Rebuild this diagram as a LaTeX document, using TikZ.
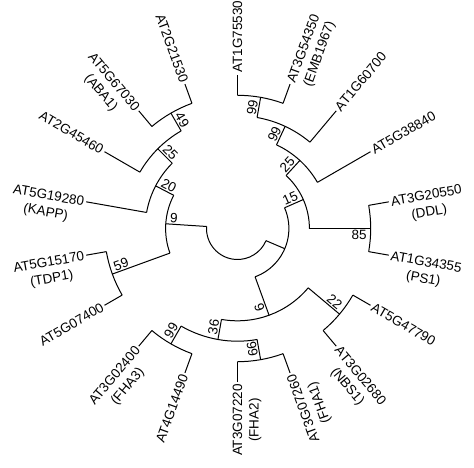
\documentclass[tikz,border=0pt]{standalone}
\usepackage{fontspec}
\setmainfont{Liberation Sans}
\begin{document}
\begin{tikzpicture}[x=0.75pt,y=0.75pt,
  every node/.style={font=\fontsize{10.1}{12}\selectfont, inner sep=1pt},
  branch/.style={draw=black, line width=0.75pt},
  leafR/.style={anchor=west, rotate=#1, inner xsep=1.5pt},
  leafL/.style={anchor=east, rotate=#1+180, inner xsep=1.5pt},
  subR/.style={anchor=north, rotate=#1, inner ysep=3.6pt},
  subL/.style={anchor=north, rotate=#1+180, inner ysep=3.6pt},
  bsR/.style={anchor=south east, rotate=#1},
  bsRb/.style={anchor=north east, rotate=#1},
  bsL/.style={anchor=south west, rotate=#1+180},
]
\useasboundingbox (-237.5,-238.5) rectangle (236.5,228.5);

% ---- internal node coordinates (node point and base point on parent arc)
\coordinate (n9b) at (176.25:31);   \coordinate (n9) at (176.25:71.9);
\coordinate (nBb) at (336.875:31);  \coordinate (nB) at (336.875:51.4);
\coordinate (n15b) at (23.75:51.4); \coordinate (n15) at (23.75:71.9);
\coordinate (n25rb) at (47.5:71.9); \coordinate (n25r) at (47.5:92.3);
\coordinate (n99bb) at (65:92.3);   \coordinate (n99b) at (65:112.7);
\coordinate (n99ab) at (80:112.7);  \coordinate (n99a) at (80:133.2);
\coordinate (n85b) at (0:71.9);     \coordinate (n85) at (0:133.2);
\coordinate (n6b) at (-70:51.4);    \coordinate (n6) at (-70:92.3);
\coordinate (n22b) at (-40:92.3);   \coordinate (n22) at (-40:133.2);
\coordinate (n36b) at (-100:92.3);  \coordinate (n36) at (-100:112.7);
\coordinate (n66b) at (-80:112.7);  \coordinate (n66) at (-80:133.2);
\coordinate (n99cb) at (-120:112.7);\coordinate (n99c) at (-120:133.2);
\coordinate (n59b) at (200:71.9);   \coordinate (n59) at (200:133.2);
\coordinate (n20b) at (152.5:71.9); \coordinate (n20) at (152.5:92.3);
\coordinate (n25lb) at (135:92.3);  \coordinate (n25l) at (135:112.7);
\coordinate (n49b) at (120:112.7);  \coordinate (n49) at (120:133.2);

% ---- leaf coordinates
\foreach \k/\a/\r in {1/90/133.2, 2/70/133.2, 3/50/112.7, 4/30/92.3,
  5/10/133.2, 6/-10/133.2, 7/-30/133.2, 8/-50/133.2, 9/-70/133.2,
  10/-90/133.2, 11/-110/133.2, 12/-130/133.2, 13/210/133.2, 14/190/133.2,
  15/170/92.3, 16/150/112.7, 17/130/133.2, 18/110/133.2}{
  \coordinate (t\k b) at (\a:\r);
  \coordinate (t\k) at (\a:153.6);
}

% ---- arcs
\path[branch] (n9b) arc[start angle=176.25, end angle=336.875, radius=31];
\path[branch] (n6b) arc[start angle=-70, end angle=23.75, radius=51.4];
\path[branch] (n85b) arc[start angle=0, end angle=47.5, radius=71.9];
\path[branch] (t4b) arc[start angle=30, end angle=65, radius=92.3];
\path[branch] (t3b) arc[start angle=50, end angle=80, radius=112.7];
\path[branch] (t2b) arc[start angle=70, end angle=90, radius=133.2];
\path[branch] (t6b) arc[start angle=-10, end angle=10, radius=133.2];
\path[branch] (n36b) arc[start angle=-100, end angle=-40, radius=92.3];
\path[branch] (t8b) arc[start angle=-50, end angle=-30, radius=133.2];
\path[branch] (n99cb) arc[start angle=-120, end angle=-80, radius=112.7];
\path[branch] (t10b) arc[start angle=-90, end angle=-70, radius=133.2];
\path[branch] (t12b) arc[start angle=-130, end angle=-110, radius=133.2];
\path[branch] (n20b) arc[start angle=152.5, end angle=200, radius=71.9];
\path[branch] (t14b) arc[start angle=190, end angle=210, radius=133.2];
\path[branch] (n25lb) arc[start angle=135, end angle=170, radius=92.3];
\path[branch] (n49b) arc[start angle=120, end angle=150, radius=112.7];
\path[branch] (t18b) arc[start angle=110, end angle=130, radius=133.2];

% ---- radial branches
\foreach \n in {n9,nB,n15,n25r,n99b,n99a,n85,n6,n22,n36,n66,n99c,n59,n20,n25l,n49}
  {\path[branch] (\n b) -- (\n);}
\foreach \k in {1,...,18} {\path[branch] (t\k b) -- (t\k);}

% ---- leaf labels
\node[leafR=90]  (l1) at (t1) {AT1G75530};
\node[leafR=70]  (l2) at (t2) {AT3G54350};
\node[subR=70] (s2) at (l2.south) {(EMB1967)};
\node[leafR=50]  (l3) at (t3) {AT1G60700};
\node[leafR=30]  (l4) at (t4) {AT5G38840};
\node[leafR=10]  (l5) at (t5) {AT3G20550};
\node[subR=10] (s5) at (l5.south) {(DDL)};
\node[leafR=-10] (l6) at (t6) {AT1G34355};
\node[subR=-10] (s6) at (l6.south) {(PS1)};
\node[leafR=-30] (l7) at (t7) {AT5G47790};
\node[leafR=-50] (l8) at (t8) {AT3G02680};
\node[subR=-50] (s8) at (l8.south) {(NBS1)};
\node[leafL=-70] (l9) at (t9) {AT3G07260};
\node[subL=-70] (s9) at (l9.south) {(FHA1)};
\node[leafL=-90] (l10) at (t10) {AT3G07220};
\node[subL=-90] (s10) at (l10.south) {(FHA2)};
\node[leafL=-110] (l11) at (t11) {AT4G14490};
\node[leafL=-130] (l12) at (t12) {AT3G02400};
\node[subL=-130] (s12) at (l12.south) {(FHA3)};
\node[leafL=210] (l13) at (t13) {AT5G07400};
\node[leafL=190] (l14) at (t14) {AT5G15170};
\node[subL=190] (s14) at (l14.south) {(TDP1)};
\node[leafL=170] (l15) at (t15) {AT5G19280};
\node[subL=170] (s15) at (l15.south) {(KAPP)};
\node[leafL=150] (l16) at (t16) {AT2G45460};
\node[leafL=130] (l17) at (t17) {AT5G67030};
\node[subL=130] (s17) at (l17.south) {(ABA1)};
\node[leafL=110] (l18) at (t18) {AT2G21530};

% ---- bootstrap values
\node[bsR=80]    (b99a) at (80:130.7) {99};
\node[bsR=65]    (b99b) at (65:110.2) {99};
\node[bsR=47.5]  (b25r) at (47.5:89.8) {25};
\node[bsR=23.75] (b15)  at (23.75:69.4) {15};
\node[bsRb=0]    (b85)  at (0:130.7) {85};
\node[bsR=-40]   (b22)  at (-40:130.7) {22};
\node[bsL=-70]   (b6)   at (-70:87.3) {6};
\node[bsL=-100]  (b36)  at (-100:110.2) {36};
\node[bsL=-80]   (b66)  at (-80:130.7) {66};
\node[bsL=-120]  (b99c) at (-120:130.7) {99};
\node[bsL=200]   (b59)  at (200:130.7) {59};
\node[bsL=176.25](b9)   at (176.25:69.4) {9};
\node[bsL=152.5] (b20)  at (152.5:89.8) {20};
\node[bsL=135]   (b25l) at (135:110.2) {25};
\node[bsL=120]   (b49)  at (120:130.7) {49};
\end{tikzpicture}
\end{document}
